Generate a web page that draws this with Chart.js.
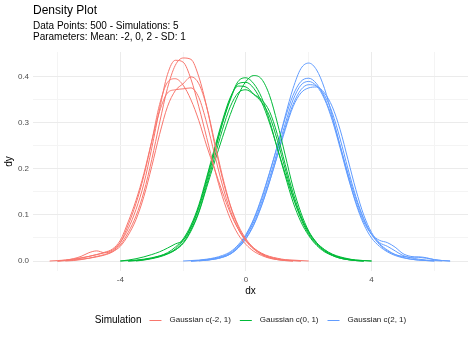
<!DOCTYPE html>
<html>
<head>
<meta charset="utf-8">
<script src="https://cdn.jsdelivr.net/npm/chart.js@4"></script>
<style>
  html, body { margin: 0; padding: 0; background: #fff; }
</style>
</head>
<body>
<canvas id="densityCanvas" width="474" height="338"></canvas>
<script>
// Titles
const plotTitle = "Density Plot";
const plotSubtitle = ["Data Points: 500 - Simulations: 5", "Parameters: Mean: -2, 0, 2 - SD: 1"];
const legendTitle = "Simulation";
const groupLabels = ["Gaussian c(-2, 1)", "Gaussian c(0, 1)", "Gaussian c(2, 1)"];
const groupColors = ["#F8766D", "#00BA38", "#619CFF"];

// Axis ticks
const xTicks = [-6, -4, -2, 0, 2, 4, 6];
const xTickLabels = ["", "-4", "", "0", "", "4", ""];
const yTicks = [0, 0.05, 0.1, 0.15, 0.2, 0.25, 0.3, 0.35, 0.4];
const yTickLabels = ["0.0", "", "0.1", "", "0.2", "", "0.3", "", "0.4"];

// Mean -2: x grid and 5 density curves
const redX = [-6.25, -6, -5.75, -5.5, -5.25, -5, -4.75, -4.5, -4.25, -4, -3.75, -3.5, -3.25, -3, -2.75, -2.5, -2.25,
  -2, -1.75, -1.5, -1.25, -1, -0.75, -0.5, -0.25, 0, 0.25, 0.5, 0.75, 1, 1.25, 1.5, 1.75, 2];
const red1 = [null, 0.000, 0.001, 0.002, 0.004, 0.006, 0.009, 0.013, 0.020, 0.035, 0.062, 0.098, 0.150, 0.220, 0.300, 0.375, 0.425,
  0.441, 0.438, 0.400, 0.335, 0.255, 0.180, 0.120, 0.075, 0.045, 0.026, 0.014, 0.007, 0.003, 0.001, 0.000, null, null];
const red2 = [0.000, 0.001, 0.002, 0.004, 0.007, 0.010, 0.014, 0.018, 0.024, 0.040, 0.070, 0.112, 0.168, 0.245, 0.330, 0.405, 0.436,
  0.432, 0.395, 0.335, 0.268, 0.200, 0.140, 0.092, 0.058, 0.036, 0.021, 0.012, 0.006, 0.003, 0.001, 0.000, null, null];
const red3 = [null, 0.000, 0.002, 0.005, 0.010, 0.018, 0.022, 0.018, 0.022, 0.040, 0.078, 0.125, 0.185, 0.260, 0.340, 0.388, 0.396,
  0.382, 0.350, 0.305, 0.250, 0.200, 0.150, 0.105, 0.070, 0.045, 0.028, 0.017, 0.010, 0.006, 0.003, 0.002, 0.001, 0.000];
const red4 = [null, null, 0.000, 0.001, 0.003, 0.006, 0.010, 0.014, 0.020, 0.032, 0.056, 0.090, 0.140, 0.205, 0.275, 0.335, 0.370,
  0.385, 0.400, 0.385, 0.335, 0.260, 0.185, 0.122, 0.078, 0.048, 0.028, 0.016, 0.009, 0.005, 0.002, 0.001, 0.000, null];
const red5 = [null, 0.000, 0.001, 0.003, 0.006, 0.010, 0.014, 0.019, 0.026, 0.045, 0.085, 0.132, 0.190, 0.260, 0.325, 0.365, 0.372,
  0.374, 0.376, 0.355, 0.300, 0.232, 0.165, 0.110, 0.070, 0.043, 0.026, 0.015, 0.008, 0.004, 0.002, 0.001, 0.000, null];

// Mean 0
const greenX = [-4, -3.75, -3.5, -3.25, -3, -2.75, -2.5, -2.25, -2, -1.75, -1.5, -1.25, -1, -0.75, -0.5, -0.25,
  0, 0.25, 0.5, 0.75, 1, 1.25, 1.5, 1.75, 2, 2.25, 2.5, 2.75, 3, 3.25, 3.5, 3.75, 4];
const green1 = [0.000, 0.001, 0.002, 0.004, 0.007, 0.011, 0.016, 0.024, 0.038, 0.065, 0.105, 0.160, 0.215, 0.268, 0.318, 0.360,
  0.390, 0.403, 0.395, 0.360, 0.300, 0.230, 0.160, 0.105, 0.065, 0.040, 0.024, 0.014, 0.008, 0.004, 0.002, 0.001, 0.000];
const green2 = [null, 0.000, 0.001, 0.003, 0.006, 0.010, 0.016, 0.026, 0.045, 0.075, 0.118, 0.178, 0.240, 0.300, 0.352, 0.390,
  0.398, 0.385, 0.355, 0.305, 0.245, 0.185, 0.128, 0.085, 0.055, 0.034, 0.020, 0.012, 0.006, 0.003, 0.001, 0.000, null];
const green3 = [0.000, 0.002, 0.005, 0.009, 0.014, 0.020, 0.028, 0.037, 0.045, 0.072, 0.115, 0.172, 0.235, 0.298, 0.350, 0.385,
  0.388, 0.375, 0.345, 0.300, 0.245, 0.190, 0.138, 0.095, 0.062, 0.040, 0.025, 0.015, 0.009, 0.005, 0.002, 0.001, 0.000];
const green4 = [null, 0.000, 0.001, 0.003, 0.006, 0.011, 0.018, 0.030, 0.048, 0.078, 0.122, 0.182, 0.245, 0.305, 0.355, 0.380,
  0.378, 0.362, 0.345, 0.315, 0.262, 0.200, 0.140, 0.092, 0.058, 0.036, 0.022, 0.013, 0.007, 0.003, 0.001, 0.000, null];
const green5 = [null, null, 0.000, 0.002, 0.005, 0.009, 0.015, 0.024, 0.040, 0.068, 0.108, 0.165, 0.225, 0.285, 0.335, 0.365,
  0.372, 0.362, 0.350, 0.325, 0.275, 0.210, 0.148, 0.098, 0.062, 0.038, 0.022, 0.012, 0.006, 0.003, 0.001, 0.000, null];

// Mean 2
const blueX = [-2, -1.75, -1.5, -1.25, -1, -0.75, -0.5, -0.25, 0, 0.25, 0.5, 0.75, 1, 1.25, 1.5, 1.75, 2, 2.25,
  2.5, 2.75, 3, 3.25, 3.5, 3.75, 4, 4.25, 4.5, 4.75, 5, 5.25, 5.5, 5.75, 6, 6.25, 6.5];
const blue1 = [null, 0.000, 0.001, 0.002, 0.004, 0.008, 0.015, 0.030, 0.055, 0.090, 0.135, 0.190, 0.250, 0.315, 0.375, 0.418, 0.430, 0.415,
  0.375, 0.315, 0.250, 0.185, 0.125, 0.080, 0.050, 0.032, 0.020, 0.012, 0.007, 0.004, 0.002, 0.001, 0.000, null, null];
const blue2 = [0.000, 0.001, 0.002, 0.004, 0.007, 0.012, 0.020, 0.035, 0.058, 0.092, 0.138, 0.192, 0.250, 0.310, 0.360, 0.390, 0.397, 0.385,
  0.355, 0.310, 0.250, 0.190, 0.135, 0.090, 0.058, 0.040, 0.032, 0.022, 0.012, 0.007, 0.004, 0.002, 0.001, 0.000, null];
const blue3 = [null, 0.000, 0.001, 0.003, 0.006, 0.010, 0.018, 0.032, 0.054, 0.085, 0.128, 0.180, 0.238, 0.298, 0.350, 0.382, 0.390, 0.380,
  0.352, 0.305, 0.245, 0.182, 0.128, 0.085, 0.058, 0.045, 0.040, 0.030, 0.016, 0.010, 0.008, 0.006, 0.003, 0.001, 0.000];
const blue4 = [null, null, 0.000, 0.002, 0.004, 0.008, 0.015, 0.028, 0.048, 0.078, 0.120, 0.172, 0.230, 0.290, 0.340, 0.372, 0.383, 0.380,
  0.360, 0.322, 0.265, 0.200, 0.140, 0.092, 0.058, 0.036, 0.022, 0.014, 0.010, 0.008, 0.009, 0.007, 0.003, 0.001, 0.000];
const blue5 = [null, 0.000, 0.001, 0.002, 0.005, 0.009, 0.016, 0.029, 0.050, 0.080, 0.122, 0.172, 0.228, 0.285, 0.335, 0.365, 0.376, 0.378,
  0.365, 0.335, 0.285, 0.220, 0.155, 0.100, 0.062, 0.038, 0.024, 0.014, 0.008, 0.004, 0.002, 0.001, 0.000, null, null];

const groups = [
  { x: redX, curves: [red1, red2, red3, red4, red5] },
  { x: greenX, curves: [green1, green2, green3, green4, green5] },
  { x: blueX, curves: [blue1, blue2, blue3, blue4, blue5] },
];

const FONT = '"Liberation Sans", Arial, sans-serif';

const datasets = [];
groups.forEach((g, gi) => {
  g.curves.forEach((ys, ci) => {
    datasets.push({
      label: groupLabels[gi] + " #" + (ci + 1),
      data: g.x.map((x, i) => ({ x: x, y: ys[i] })).filter(p => p.y !== null),
      borderColor: groupColors[gi],
      borderWidth: 1,
      pointRadius: 0,
      fill: false,
      cubicInterpolationMode: "monotone",
    });
  });
});

// title block, aligned with the panel like ggplot
const titlePlugin = {
  id: "ggTitle",
  afterDraw(chart) {
    const ctx = chart.ctx;
    const left = chart.chartArea.left;
    ctx.save();
    ctx.fillStyle = "#000";
    ctx.textAlign = "left";
    ctx.textBaseline = "middle";
    ctx.font = "12px " + FONT;
    ctx.fillText(plotTitle, left, 11);
    ctx.font = "10px " + FONT;
    ctx.fillText(plotSubtitle[0], left, 26.5);
    ctx.fillText(plotSubtitle[1], left, 37.5);
    ctx.restore();
  },
};

// bottom legend: title inline with keys
const legendPlugin = {
  id: "ggLegend",
  afterDraw(chart) {
    const ctx = chart.ctx;
    const ca = chart.chartArea;
    const y = 320;
    ctx.save();
    ctx.textBaseline = "middle";
    ctx.textAlign = "left";
    ctx.font = "10px " + FONT;
    const tw = ctx.measureText(legendTitle).width;
    ctx.font = "8px " + FONT;
    const widths = groupLabels.map(l => ctx.measureText(l).width);
    const keyW = 12, gapTitle = 8, gapKey = 8, gapItem = 9;
    let total = tw + gapTitle;
    widths.forEach((w, i) => { total += keyW + gapKey + w + (i < widths.length - 1 ? gapItem : 0); });
    let x = (ca.left + ca.right) / 2 - total / 2;
    ctx.fillStyle = "#000";
    ctx.font = "10px " + FONT;
    ctx.fillText(legendTitle, x, y);
    x += tw + gapTitle;
    ctx.font = "8px " + FONT;
    groupLabels.forEach((l, i) => {
      ctx.strokeStyle = groupColors[i];
      ctx.lineWidth = 1;
      ctx.beginPath();
      ctx.moveTo(x, y + 0.5);
      ctx.lineTo(x + keyW, y + 0.5);
      ctx.stroke();
      x += keyW + gapKey;
      ctx.fillStyle = "#1A1A1A";
      ctx.fillText(l, x, y);
      x += widths[i] + gapItem;
    });
    ctx.restore();
  },
};

new Chart(document.getElementById("densityCanvas").getContext("2d"), {
  type: "line",
  data: { datasets: datasets },
  options: {
    responsive: false,
    animation: false,
    parsing: true,
    layout: { padding: { left: 0, right: 6, top: 52, bottom: 39 } },
    plugins: {
      legend: { display: false },
      title: { display: false },
      tooltip: { enabled: false },
    },
    scales: {
      x: {
        type: "linear",
        min: -6.78,
        max: 7.07,
        afterBuildTicks: s => { s.ticks = xTicks.map(v => ({ value: v })); },
        afterFit: s => { s.height = 28; },
        border: { display: false },
        grid: {
          drawTicks: false,
          lineWidth: 1,
          color: c => (xTickLabels[c.index] ? "#EBEBEB" : "#F4F4F4"),
        },
        ticks: {
          autoSkip: false,
          maxRotation: 0,
          padding: 4,
          color: "#4D4D4D",
          font: { family: FONT, size: 8 },
          callback: (v, i) => xTickLabels[i],
        },
        title: {
          display: true,
          text: "dx",
          color: "#000",
          font: { family: FONT, size: 10 },
          padding: { top: 0, bottom: 2 },
        },
      },
      y: {
        min: -0.0217,
        max: 0.454,
        afterBuildTicks: s => { s.ticks = yTicks.map(v => ({ value: v })); },
        afterFit: s => { s.width = 33; },
        border: { display: false },
        grid: {
          drawTicks: false,
          lineWidth: 1,
          color: c => (yTickLabels[c.index] ? "#EBEBEB" : "#F4F4F4"),
        },
        ticks: {
          autoSkip: false,
          padding: 4,
          color: "#4D4D4D",
          font: { family: FONT, size: 8 },
          callback: (v, i) => yTickLabels[i],
        },
        title: {
          display: true,
          text: "dy",
          color: "#000",
          font: { family: FONT, size: 10 },
          padding: { top: 3, bottom: 0 },
        },
      },
    },
  },
  plugins: [titlePlugin, legendPlugin],
});
</script>
</body>
</html>
